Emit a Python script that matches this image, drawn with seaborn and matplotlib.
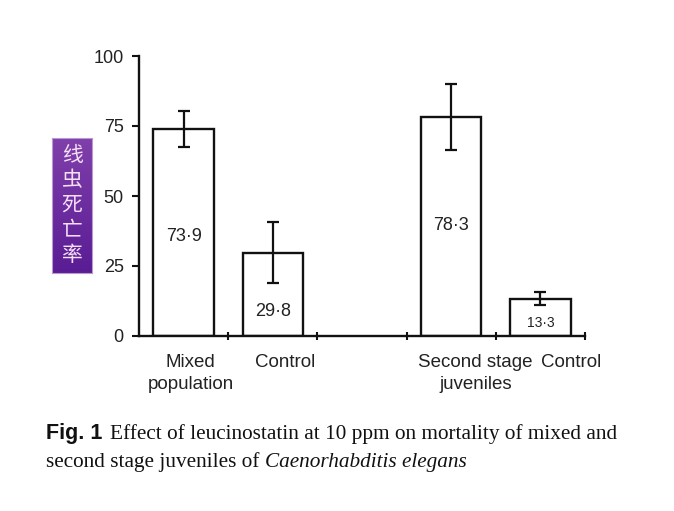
import numpy as np
import pandas as pd
import matplotlib.pyplot as plt
import seaborn as sns

# ---------------- data ----------------
groups = ["mixed", "mixed_ctrl", "gap", "j2", "j2_ctrl"]
tick_labels = ["Mixed\npopulation", "Control", "", "Second stage\njuveniles", "Control"]
bar_groups = ["mixed", "mixed_ctrl", "j2", "j2_ctrl"]
mortality = [73.9, 29.8, 78.3, 13.3]
err = [6.4, 11.0, 11.8, 2.4]
value_text = ["73·9", "29·8", "78·3", "13·3"]
yticks = [0, 25, 50, 75, 100]
ylabel_cn = "线虫死亡率"
caption_bold = "Fig. 1"
caption_1 = "Effect of leucinostatin at 10 ppm on mortality of mixed and"
caption_2 = "second stage juveniles of "
caption_it = "Caenorhabditis elegans"

# layout only
label_shift = [0.08, 0.14, 0, 0.275, 0.34]
value_y = [35.7, 8.7, 39.6, 4.7]
value_size = [13, 13, 13, 10]

df = pd.DataFrame({"group": bar_groups, "mortality": mortality})

sns.set_style("white")
plt.rcParams['font.family'] = ['Liberation Sans', 'DejaVu Sans']

fig = plt.figure(figsize=(6.74, 5.11), dpi=100)
ax = fig.add_axes([139 / 674, 1 - 336 / 511, 446 / 674, 280 / 511])

sns.barplot(data=df, x="group", y="mortality", order=groups, color="white",
            edgecolor="#111111", linewidth=1.7, width=0.675, ax=ax)

xs = [p.get_x() + p.get_width() / 2 for p in ax.patches]
ax.errorbar(xs, mortality, yerr=err, fmt="none", ecolor="#111111",
            elinewidth=1.6, capsize=4, capthick=1.6)
for x, t, y, s in zip(xs, value_text, value_y, value_size):
    ax.text(x, y, t, ha="center", va="center", fontsize=s, color="#222222")

ax.set_xlim(-0.5, 4.5)
ax.set_ylim(0, 100)
ax.set_yticks(yticks)
ax.set_yticklabels([str(v) for v in yticks], fontsize=13, color="#222222")
ax.set_xticks([0.5, 1.5, 2.5, 3.5, 4.5])
ax.set_xticklabels([])
ax.tick_params(axis="x", direction="inout", length=6, width=1.5, color="#111111", bottom=True)
ax.tick_params(axis="y", direction="out", length=5, width=1.5, color="#111111", left=True, pad=6)
ax.set_xlabel("")
ax.set_ylabel("")
sns.despine(ax=ax)
for sp in ["left", "bottom"]:
    ax.spines[sp].set_color("#111111")
    ax.spines[sp].set_linewidth(1.7)

trans = ax.get_xaxis_transform()
for i, lab in enumerate(tick_labels):
    if lab:
        ax.text(i + label_shift[i], -0.063, lab, transform=trans, ha="center", va="top",
                fontsize=13.5, color="#222222", linespacing=1.42, multialignment="center")

# purple label box
bax = fig.add_axes([52 / 674, 1 - 273 / 511, 40 / 674, 135 / 511])
grad = np.linspace(0, 1, 100).reshape(-1, 1)
top = np.array([0.50, 0.25, 0.67])
bot = np.array([0.35, 0.11, 0.58])
img = top + (bot - top) * grad[:, :, None]
bax.imshow(img, aspect="auto", extent=[0, 1, 0, 1])
bax.set_xticks([])
bax.set_yticks([])
for sp in bax.spines.values():
    sp.set_color("#b89ad0")
    sp.set_linewidth(0.8)
for k, ch in enumerate(ylabel_cn):
    fig.text(72 / 674, 1 - (155 + 25 * k) / 511, ch, ha="center", va="center",
             fontsize=15, color="#f4dff4", family=["Noto Sans CJK SC", "DejaVu Sans"])

# caption
fig.canvas.draw()
r = fig.canvas.get_renderer()
t0 = fig.text(46 / 674, 1 - 434 / 511, caption_bold, fontsize=15.5, fontweight="bold",
              va="center", color="#111111")
e0 = t0.get_window_extent(r)
fig.text((e0.x1 + 8) / 674, 1 - 434 / 511, caption_1, fontsize=15.3, va="center",
         family="Liberation Serif", color="#111111")
t2 = fig.text(46 / 674, 1 - 462 / 511, caption_2, fontsize=15.3, va="center",
              family="Liberation Serif", color="#111111")
e2 = t2.get_window_extent(r)
fig.text(e2.x1 / 674, 1 - 462 / 511, caption_it, fontsize=15.3, va="center",
         family="Liberation Serif", style="italic", color="#111111")

fig.savefig("out.png", dpi=100, facecolor="white")
